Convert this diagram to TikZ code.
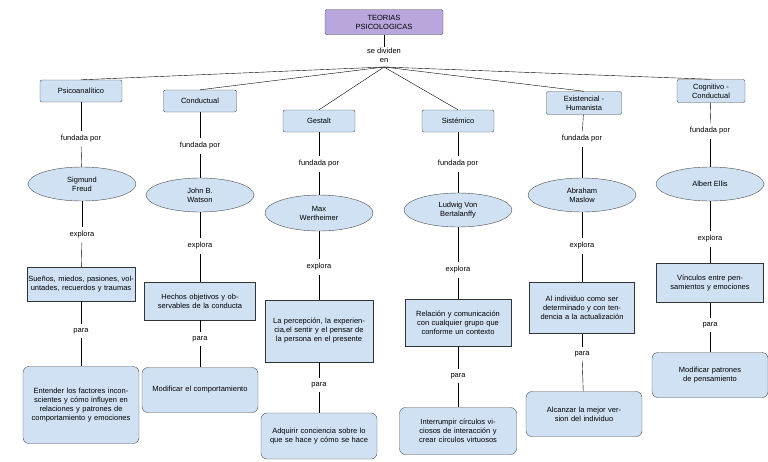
\documentclass[tikz,border=0pt]{standalone}
\usepackage{fontspec}
\setmainfont{Liberation Sans}
\usetikzlibrary{shapes.geometric}
\definecolor{boxblue}{RGB}{207,225,243}
\definecolor{titlepurple}{RGB}{184,166,220}
\begin{document}
\begin{tikzpicture}[
        x=1pt, y=-1pt,
        every node/.style={font=\fontsize{7.5}{9}\selectfont, align=center},
        titlen/.style={draw=black!70, fill=titlepurple, rounded corners=2pt, minimum width=118pt, minimum height=25pt},
        catn/.style={draw=black!70, fill=boxblue, rounded corners=2pt, minimum height=22pt, inner sep=2pt},
        personn/.style={draw=black!70, fill=boxblue, ellipse, minimum width=108pt, minimum height=34pt, inner sep=0pt},
        topicn/.style={draw=black!80, fill=boxblue, inner sep=1pt},
        goaln/.style={draw=black!70, fill=boxblue, rounded corners=6pt, inner sep=2pt},
        linkn/.style={inner sep=4pt},
    ]
    \useasboundingbox (0,0) rectangle (768,461);
    \node[titlen](title) at (384,22){TEORIAS\\PSICOLOGICAS};
    \node[linkn, inner sep=1pt](divide) at (384,55){se dividen\\en};
    \coordinate (hub) at (384,67);
    % Psicoanalitico
    \node[catn, minimum width=82pt](psico) at (81,91){Psicoanalítico};
    \node[linkn](f1) at (81,139){fundada por};
    \node[personn](freud) at (82,184){Sigmund\\Freud};
    \node[linkn](e1) at (82,235){explora};
    \node[topicn, text width=106pt, minimum height=34pt](suenos) at (81,284){Sueños, miedos, pasiones, voluntades, recuerdos y traumas};
    \node[linkn](p1) at (81,331){para};
    \node[goaln, text width=112pt, minimum height=77pt](entender) at (81,405){Entender los factores inconscientes y cómo influyen en relaciones y patrones de comportamiento y emociones};
    % Conductual
    \node[catn, minimum width=73pt](cond) at (200,101){Conductual};
    \node[linkn](f2) at (200,146){fundada por};
    \node[personn](watson) at (200,195){John B.\\Watson};
    \node[linkn](e2) at (200,246){explora};
    \node[topicn, text width=109pt, minimum height=38pt](hechos) at (200,301){Hechos objetivos y observables de la conducta};
    \node[linkn](p2) at (200,339){para};
    \node[goaln, text width=112pt, minimum height=45pt](modif) at (200,390){Modificar el comportamiento};
    % Gestalt
    \node[catn, minimum width=72pt](gest) at (319,121){Gestalt};
    \node[linkn](f3) at (319,164){fundada por};
    \node[personn, minimum height=36pt](max) at (319,213){Max\\Wertheimer};
    \node[linkn](e3) at (319,267){explora};
    \node[topicn, text width=106pt, minimum height=62pt](percep) at (319,331){La percepción, la experiencia,el sentir y el pensar de la persona en el presente};
    \node[linkn](p3) at (319,385){para};
    \node[goaln, text width=112pt, minimum height=46pt](adquirir) at (319,436){Adquirir conciencia sobre lo que se hace y cómo se hace};
    % Sistemico
    \node[catn, minimum width=72pt](sist) at (458,121){Sistémico};
    \node[linkn](f4) at (458,164){fundada por};
    \node[personn](ludwig) at (458,210){Ludwig Von\\Bertalanffy};
    \node[linkn](e4) at (458,270){explora};
    \node[topicn, text width=104pt, minimum height=47pt](relacion) at (458,323){Relación y comunicación con cualquier grupo que conforme un contexto};
    \node[linkn](p4) at (458,376){para};
    \node[goaln, text width=113pt, minimum height=47pt](interr) at (458,431){Interrumpir círculos viciosos de interacción y crear círculos virtuosos};
    % Existencial
    \node[catn, minimum width=75pt, minimum height=23pt, inner sep=1pt](exist) at (584,103){Existencial -\\Humanista};
    \node[linkn](f5) at (582,139){fundada por};
    \node[personn](maslow) at (582,195){Abraham\\Maslow};
    \node[linkn](e5) at (582,246){explora};
    \node[topicn, text width=103pt, minimum height=51pt](indiv) at (582,308){Al individuo como ser determinado y con tendencia a la actualización};
    \node[linkn](p5) at (582,354){para};
    \node[goaln, text width=112pt, minimum height=45pt](alcanzar) at (584,414){Alcanzar la mejor version del individuo};
    % Cognitivo
    \node[catn, minimum width=68pt, minimum height=23pt, inner sep=1pt](cogn) at (711,91){Cognitivo -\\Conductual};
    \node[linkn](f6) at (710,131){fundada por};
    \node[personn](ellis) at (710,184){Albert Ellis};
    \node[linkn](e6) at (710,239){explora};
    \node[topicn, text width=105pt, minimum height=39pt](vinculos) at (710,283){Vínculos entre pensamientos y emociones};
    \node[linkn](p6) at (710,325){para};
    \node[goaln, text width=112pt, minimum height=45pt](patrones) at (710,375){Modificar patrones de pensamiento};
    % connectors
    \draw (title) -- (divide);
    \foreach \c in {psico,cond,gest,sist,exist,cogn}
        \draw (hub) -- (\c.north);
    \foreach \a/\b/\c/\d/\e/\f/\g in {psico/f1/freud/e1/suenos/p1/entender,
            cond/f2/watson/e2/hechos/p2/modif,
            gest/f3/max/e3/percep/p3/adquirir,
            sist/f4/ludwig/e4/relacion/p4/interr,
            exist/f5/maslow/e5/indiv/p5/alcanzar,
            cogn/f6/ellis/e6/vinculos/p6/patrones}{
        \draw (\a) -- (\b);
        \draw (\b) -- (\c);
        \draw (\c) -- (\d);
        \draw (\d) -- (\e);
        \draw (\e) -- (\f);
        \draw (\f) -- (\g);
    }
\end{tikzpicture}
\end{document}
